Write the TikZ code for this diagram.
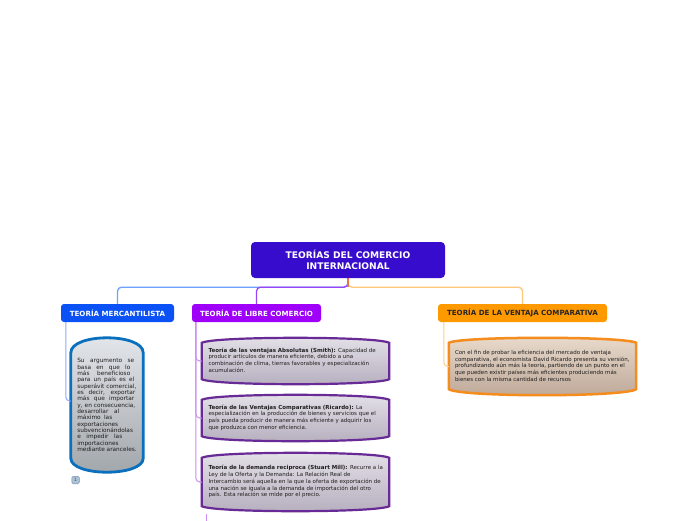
\documentclass[tikz,border=0pt]{standalone}
\usepackage{fontspec}
\setmainfont{DejaVu Sans}
\usetikzlibrary{calc,backgrounds}
\definecolor{mainc}{RGB}{56,12,204}
\definecolor{mercc}{RGB}{10,82,245}
\definecolor{librec}{RGB}{158,0,250}
\definecolor{ventc}{RGB}{255,153,0}
\definecolor{bluel}{RGB}{110,160,255}
\definecolor{purpl}{RGB}{150,70,245}
\definecolor{orangel}{RGB}{255,200,120}
\definecolor{stemc}{RGB}{230,120,60}
\definecolor{merclk}{RGB}{140,170,255}
\definecolor{librelk}{RGB}{205,140,245}
\definecolor{ventlk}{RGB}{255,205,140}
\definecolor{cylb}{RGB}{10,112,190}
\definecolor{cyltop}{RGB}{228,231,235}
\definecolor{cylbot}{RGB}{160,165,170}
\definecolor{boxb}{RGB}{104,42,150}
\definecolor{boxtop}{RGB}{228,225,232}
\definecolor{boxbot}{RGB}{182,174,190}
\definecolor{rb}{RGB}{245,140,30}
\definecolor{rtop}{RGB}{232,218,204}
\definecolor{rbot}{RGB}{190,168,152}
\definecolor{bodyc}{RGB}{30,30,30}
\definecolor{badgef}{RGB}{175,195,215}
\definecolor{badged}{RGB}{120,145,175}
\definecolor{badget}{RGB}{60,70,90}
\newcommand{\leafshape}[5]{%
  \path[#2] ($(#1.north west)+(0,#3)$)
    .. controls ($(#1.north west)+(#5,-#3/3)$) and ($(#1.north east)+(-#5,-#3/3)$) .. ($(#1.north east)+(0,#3)$)
    -- ($(#1.south east)+(0,-#4)$)
    .. controls ($(#1.south east)+(-#5,#4/3)$) and ($(#1.south west)+(#5,#4/3)$) .. ($(#1.south west)+(0,-#4)$)
    -- cycle;}
\newcommand{\jl}[2]{\makebox[#1pt][s]{#2}}
\newcommand{\leaflines}[2]{\makebox[#1pt][l]{\begin{tabular}{@{}l@{}}#2\end{tabular}}}
\tikzset{
  rootbox/.style={fill=mainc, rounded corners=4pt, minimum width=194pt, minimum height=36pt,
    text=white, font=\fontsize{9.1}{11.5}\selectfont\bfseries, align=center, inner sep=0pt},
  topicbox/.style={rounded corners=3pt, minimum height=18pt, inner sep=0pt,
    font=\fontsize{7.1}{8}\selectfont\bfseries},
  leaftext/.style={inner sep=0pt, text=bodyc, font=\fontsize{5.5}{6.7}\selectfont},
  cyltext/.style={inner sep=0pt, text=bodyc, align=left, font=\fontsize{5.8}{6.35}\selectfont},
  cylframe/.style={draw=cylb, line width=2.8pt, top color=cyltop, bottom color=cylbot},
  boxframe/.style={draw=boxb, line width=2.2pt, top color=boxtop, bottom color=boxbot},
  rframe/.style={draw=rb, line width=2.5pt, top color=rtop, bottom color=rbot},
  trunk/.style={line width=1.3pt, rounded corners=4pt},
  link/.style={line width=1pt, rounded corners=4pt},
  badge/.style={fill=badgef, draw=badged, line width=0.5pt, rounded corners=1.5pt,
    minimum size=7.5pt, inner sep=0pt, text=badget, font=\fontsize{4.5}{5}\selectfont}
}
\begin{document}
\begin{tikzpicture}[x=1pt,y=-1pt]
\useasboundingbox (0,0) rectangle (696,520);

% root and topics
\node[rootbox] (main) at (348,260) {TEORÍAS DEL COMERCIO\\INTERNACIONAL};
\node[topicbox, fill=mercc, text=white, minimum width=113pt] (merc) at (117.5,313) {TEORÍA MERCANTILISTA};
\node[topicbox, fill=librec, text=white, minimum width=129pt] (libre) at (256.5,313) {TEORÍA DE LIBRE COMERCIO};
\node[topicbox, fill=ventc, text=black!85, minimum width=169pt] (vent) at (522.5,313) {TEORÍA DE LA VENTAJA COMPARATIVA};

% leaves
\node[cyltext, minimum width=72pt, minimum height=134pt] (cyl) at (107,405) {%
\jl{57}{Su argumento se}\\
\jl{53}{basa en que lo}\\
\jl{53}{más beneficioso}\\
\jl{57}{para un país es el}\\
superávit comercial,\\
\jl{58}{es decir, exportar}\\
\jl{57}{más que importar}\\
\jl{58}{y, en consecuencia,}\\
\jl{42}{desarrollar al}\\
\jl{35}{máximo las}\\
exportaciones\\
subvencionándolas\\
\jl{45}{e impedir las}\\
importaciones\\
mediante aranceles.};

\node[leaftext, minimum width=187pt, minimum height=46pt] (b1) at (295.5,361) {\leaflines{174}{%
\textbf{Teoría de las ventajas Absolutas (Smith):} Capacidad de\\
producir artículos de manera eficiente, debido a una\\
combinación de clima, tierras favorables y especialización\\
acumulación.}};

\node[leaftext, minimum width=187pt, minimum height=46pt] (b2) at (295.5,418) {\leaflines{174}{%
\textbf{Teoría de las Ventajas Comparativas (Ricardo):} La\\
especialización en la producción de bienes y servicios que el\\
país pueda producir de manera más eficiente y adquirir los\\
que produzca con menor eficiencia.}};

\node[leaftext, minimum width=187pt, minimum height=58pt] (b3) at (295.5,482) {\leaflines{174}{%
\textbf{Teoría de la demanda reciproca (Stuart Mill):} Recurre a la\\
Ley de la Oferta y la Demanda: La Relación Real de\\
Intercambio será aquella en la que la oferta de exportación de\\
una nación se iguala a la demanda de importación del otro\\
país. Esta relación se mide por el precio.}};

\node[leaftext, minimum width=187pt, minimum height=57pt] (r1) at (542.5,366.5) {\leaflines{175}{%
Con el fin de probar la eficiencia del mercado de ventaja\\
comparativa, el economista David Ricardo presenta su versión,\\
profundizando aún más la teoría, partiendo de un punto en el\\
que pueden existir países más eficientes produciendo más\\
bienes con la misma cantidad de recursos}};

\node[badge] (badge) at (75.5,480) {1};

\coordinate (tailA) at (206,514);
\coordinate (tailB) at (206,521);

\begin{scope}[on background layer]
  \fill[white] (0,0) rectangle (696,520);
  \leafshape{cyl}{cylframe}{15}{14}{0}
  \leafshape{b1}{boxframe}{5}{5}{12}
  \leafshape{b2}{boxframe}{5}{5}{12}
  \leafshape{b3}{boxframe}{5}{5}{12}
  \leafshape{r1}{rframe}{5}{6}{12}

  % connectors root -> topics
  \draw[trunk, bluel] (main.south) -- ++(0,9) -| (merc.north);
  \draw[trunk, purpl] (main.south) -- ++(0,9) -| (libre.north);
  \draw[trunk, orangel] (main.south) -- ++(0,9) -| (vent.north);
  \draw[line width=1.3pt, stemc] (main.south) -- ++(0,9);

  % topic -> leaves
  \draw[link, merclk] ([xshift=5pt]merc.south west) |- ([yshift=4pt]cyl.west);
  \draw[link, librelk] ([xshift=4pt]libre.south west) |- (b1.west);
  \draw[link, librelk] ([xshift=4pt]libre.south west) |- (b2.west);
  \draw[link, librelk] ([xshift=4pt]libre.south west) |- (b3.west);
  \draw[link, librelk] (tailA) -- (tailB);
  \draw[link, ventlk] ([xshift=6pt]vent.south west) |- (r1.west);
\end{scope}
\end{tikzpicture}
\end{document}
